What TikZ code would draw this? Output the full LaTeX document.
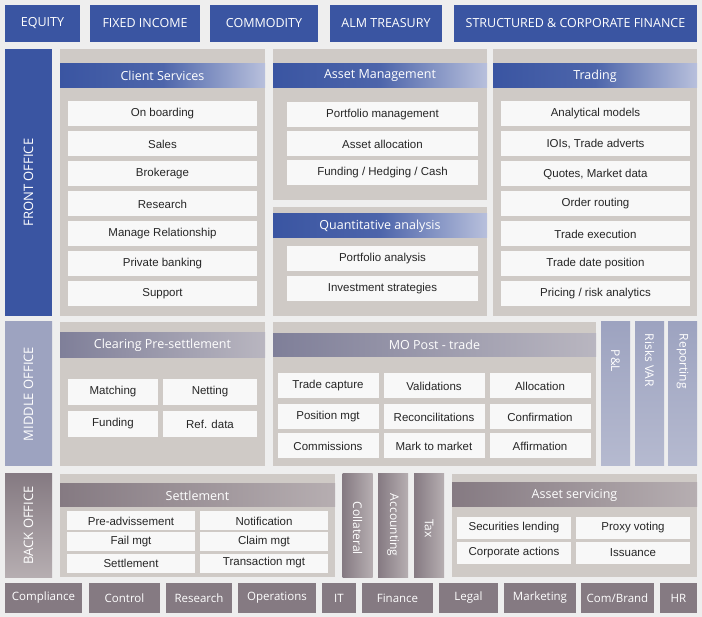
\documentclass[tikz,border=0pt]{standalone}
\usepackage{fontspec}
\setmainfont{Liberation Sans}
\newfontfamily\hdrfont{Open Sans}
\usepackage{tikz}
\usetikzlibrary{positioning}
\definecolor{bgcol}{HTML}{EEEEEE}
\definecolor{bluebox}{HTML}{3A55A2}
\definecolor{bluefade}{HTML}{B8C0DC}
\definecolor{panelgrey}{HTML}{CFCAC6}
\definecolor{itemwhite}{HTML}{F8F8F8}
\definecolor{midhdr}{HTML}{7F7F99}
\definecolor{midfade}{HTML}{B9B6C0}
\definecolor{midbar}{HTML}{9DA3C0}
\definecolor{backhdr}{HTML}{857A82}
\definecolor{backfade}{HTML}{B6AEB1}
\tikzset{
  panel/.style={fill=panelgrey, draw=none, inner sep=0pt},
  item/.style={fill=itemwhite, draw=none, inner sep=0pt, font=\fontsize{11.5}{12}\selectfont, text=black!85},
  topbox/.style={fill=bluebox, text=white, draw=none, inner sep=0pt, font=\hdrfont\fontsize{12.5}{13}\selectfont},
  bluehdr/.style={left color=bluebox, right color=bluefade, middle color=bluebox!85!bluefade, text=white, inner sep=0pt, font=\hdrfont\fontsize{12.5}{13}\selectfont},
  midhead/.style={left color=midhdr, right color=midfade, text=white, inner sep=0pt, font=\hdrfont\fontsize{12.5}{13}\selectfont},
  backhead/.style={left color=backhdr, right color=backfade, text=white, inner sep=0pt, font=\hdrfont\fontsize{12.5}{13}\selectfont},
  vbar/.style={text=white, inner sep=0pt},
  vlabel/.style={text=white, rotate=-90, anchor=west, inner sep=0pt, font=\hdrfont\fontsize{12}{13}\selectfont},
  botbox/.style={fill=backhdr, text=white, draw=none, inner sep=0pt, font=\hdrfont\fontsize{11.5}{12}\selectfont},
}
\begin{document}
\begin{tikzpicture}[x=1pt,y=-1pt]
    \useasboundingbox[fill=bgcol] (0,0) rectangle (702,617);

    % top row
    \node[topbox, minimum width=75pt, minimum height=37pt] (equity) at (42.5,23.5) {EQUITY};
    \node[topbox, minimum width=110pt, minimum height=37pt] (fixed) at (145,23.5) {FIXED INCOME};
    \node[topbox, minimum width=108pt, minimum height=37pt] (commodity) at (264,23.5) {COMMODITY};
    \node[topbox, minimum width=112pt, minimum height=37pt] (alm) at (386,23.5) {ALM TREASURY};
    \node[topbox, minimum width=243pt, minimum height=37pt] (structured) at (575.5,23.5) {STRUCTURED \& CORPORATE FINANCE};

    % office bars
    \node[topbox, minimum width=47pt, minimum height=267pt] (front) at (28.5,182.5) {};
    \node[text=white, rotate=90, font=\hdrfont\fontsize{13}{14}\selectfont] at (front.center) {FRONT OFFICE};
    \node[panel, minimum width=47pt, minimum height=144pt, left color=midbar, right color=midbar] (middle) at (28.5,394) {};
    \node[text=white, rotate=90, font=\hdrfont\fontsize{13}{14}\selectfont] at (middle.center) {MIDDLE OFFICE};
    \node[panel, minimum width=47pt, minimum height=103pt, top color=backhdr, bottom color=backfade] (back) at (28.5,525.5) {};
    \node[text=white, rotate=90, font=\hdrfont\fontsize{13}{14}\selectfont] at (back.center) {BACK OFFICE};

    % front office: client services
    \node[panel, minimum width=205pt, minimum height=267pt] (cspanel) at (162.5,182.5) {};
    \node[bluehdr, minimum width=205pt, minimum height=24pt] (cshdr) at (162.5,76) {Client Services};
    \foreach \t [count=\i] in {On boarding, Sales, Brokerage, Research, Manage Relationship, Private banking, Support}
        \node[item, minimum width=189pt, minimum height=25pt] (cs\i) at (162.5,84+30*\i) {\t};

    % front office: asset management
    \node[panel, minimum width=214pt, minimum height=151pt] (ampanel) at (380,124.5) {};
    \node[bluehdr, minimum width=214pt, minimum height=24pt] (amhdr) at (380,76) {Asset Management};
    \foreach \t [count=\i] in {Portfolio management, Asset allocation, Funding / Hedging / Cash}
        \node[item, minimum width=191pt, minimum height=25pt] (am\i) at (382.5,86+29*\i) {\t};

    % front office: quantitative analysis
    \node[panel, minimum width=214pt, minimum height=109pt] (qapanel) at (380,261.5) {};
    \node[bluehdr, minimum width=214pt, minimum height=24pt] (qahdr) at (380,226) {Quantitative analysis};
    \foreach \t [count=\i] in {Portfolio analysis, Investment strategies}
        \node[item, minimum width=191pt, minimum height=25pt] (qa\i) at (382.5,229+30*\i) {\t};

    % front office: trading
    \node[panel, minimum width=204pt, minimum height=267pt] (trpanel) at (595,182.5) {};
    \node[bluehdr, minimum width=204pt, minimum height=24pt] (trhdr) at (595,76) {Trading};
    \foreach \t [count=\i] in {Analytical models, {IOIs, Trade adverts}, {Quotes, Market data}, Order routing, Trade execution, Trade date position, Pricing / risk analytics}
        \node[item, minimum width=189pt, minimum height=25pt] (tr\i) at (595.5,84+30*\i) {\t};

    % middle office: clearing
    \node[panel, minimum width=205pt, minimum height=144pt] (clpanel) at (162.5,394) {};
    \node[midhead, minimum width=205pt, minimum height=25pt] (clhdr) at (162.5,345.5) {Clearing Pre-settlement};
    \node[item, minimum width=90pt, minimum height=26pt] (cl1) at (113,392) {Matching};
    \node[item, minimum width=94pt, minimum height=26pt] (cl2) at (210,392) {Netting};
    \node[item, minimum width=90pt, minimum height=26pt] (cl3) at (113,424) {Funding};
    \node[item, minimum width=94pt, minimum height=26pt] (cl4) at (210,424) {Ref. data};

    % middle office: post trade
    \node[panel, minimum width=323pt, minimum height=144pt] (mopanel) at (434.5,394) {};
    \node[midhead, minimum width=323pt, minimum height=23pt] (mohdr) at (434.5,345) {MO Post - trade};
    \foreach \t [count=\i] in {Trade capture, Validations, Allocation}
        \node[item, minimum width=101pt, minimum height=25pt] (mo1\i) at (328+106*\i-106,386) {\t};
    \foreach \t [count=\i] in {Position mgt, Reconcilitations, Confirmation}
        \node[item, minimum width=101pt, minimum height=25pt] (mo2\i) at (328+106*\i-106,417) {\t};
    \foreach \t [count=\i] in {Commissions, Mark to market, Affirmation}
        \node[item, minimum width=101pt, minimum height=25pt] (mo3\i) at (328+106*\i-106,446) {\t};

    % middle office: vertical bars
    \foreach \t/\x/\d [count=\i] in {P\&L/615.5/28, Risks VAR/649.5/12, Reporting/682.5/12} {
        \node[vbar, top color=midbar, bottom color=midbar!75, minimum width=29pt, minimum height=144pt] (mb\i) at (\x,394) {};
        \node[vlabel] at ([yshift=-\d pt]mb\i.north) {\t};
    }

    % back office: settlement
    \node[panel, minimum width=275pt, minimum height=103pt] (stpanel) at (197.5,525.5) {};
    \node[backhead, minimum width=275pt, minimum height=23pt] (sthdr) at (197.5,495.5) {Settlement};
    \foreach \a/\b [count=\i] in {Pre-advissement/Notification, Fail mgt/Claim mgt, Settlement/Transaction mgt} {
        \node[item, minimum width=128pt, minimum height=19pt] (st\i a) at (131,500+21*\i) {\a};
        \node[item, minimum width=128pt, minimum height=19pt] (st\i b) at (264,500+21*\i) {\b};
    }

    % back office: vertical bars
    \foreach \t/\x/\d [count=\i] in {Collateral/357.5/28, Accounting/393/20, Tax/429/45} {
        \node[vbar, left color=backhdr, right color=backfade, minimum width=30pt, minimum height=103pt] (bb\i) at (\x,525.5) {};
        \node[vlabel] at ([yshift=-\d pt]bb\i.north) {\t};
    }

    % back office: asset servicing
    \node[panel, minimum width=245pt, minimum height=103pt] (aspanel) at (574.5,525.5) {};
    \node[backhead, minimum width=245pt, minimum height=24pt] (ashdr) at (574.5,495) {Asset servicing};
    \node[item, minimum width=114pt, minimum height=22pt] (as1) at (514,528) {Securities lending};
    \node[item, minimum width=114pt, minimum height=22pt] (as2) at (633,528) {Proxy voting};
    \node[item, minimum width=114pt, minimum height=22pt] (as3) at (514,553) {Corporate actions};
    \node[item, minimum width=114pt, minimum height=22pt] (as4) at (633,553) {Issuance};

    % bottom row
    \foreach \t/\a/\b [count=\i] in {Compliance/5/82, Control/89/160, Research/166/232, Operations/238/316, IT/322/356, Finance/362/433, Legal/439/498, Marketing/504/576, {Com/Brand}/581/654, HR/660/697}
        \node[botbox, minimum width=\b pt-\a pt, minimum height=30pt] (bot\i) at ({(\a+\b)/2},598) {\t};
\end{tikzpicture}
\end{document}
